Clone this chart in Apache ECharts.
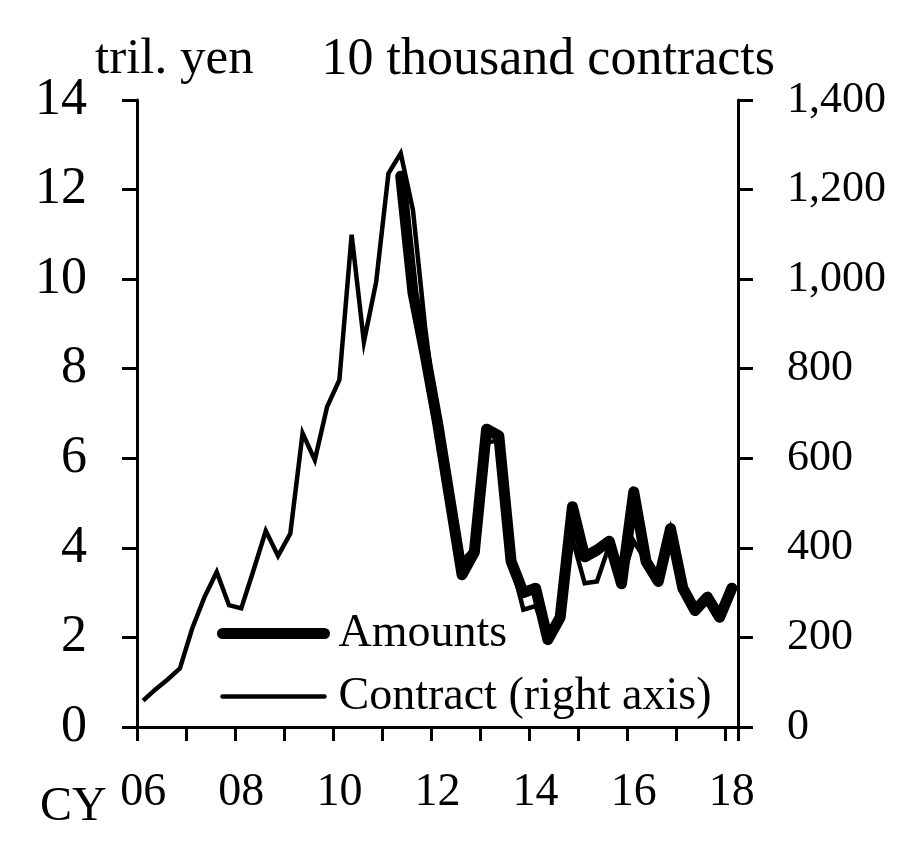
<!DOCTYPE html>
<html>
<head>
<meta charset="utf-8">
<script src="https://cdn.jsdelivr.net/npm/echarts@6/dist/echarts.min.js"></script>
<style>
  html, body { margin: 0; padding: 0; background: #fff; }
  #chart { width: 916px; height: 856px; }
</style>
</head>
<body>
<div id="chart"></div>
<script>
// quarterly, 2006Q1 - 2018Q1
const quarters = [];
for (let y = 6; y <= 18; y++) {
    for (let q = 1; q <= 4; q++) {
        if (y === 18 && q > 1) break;
        quarters.push((y < 10 ? '0' + y : '' + y) + 'Q' + q);
    }
}
// contracts, 10 thousand (right axis)
const contracts = [59, 84, 106, 131, 220, 290, 346, 272, 265, 350,
    438, 382, 432, 656, 596, 715, 775, 1099, 860, 994,
    1236, 1281, 1154, 890, 680, 500, 370, 400, 635, 640,
    370, 262, 270, 200, 250, 420, 321, 325, 405, 325,
    415, 370, 330, 440, 310, 265, 290, 250, 310];
// amounts, tril. yen (left axis) - starts 2011Q2
const amounts = [null, null, null, null, null, null, null, null, null, null,
    null, null, null, null, null, null, null, null, null, null,
    null, 12.3, 9.7, 8.3, 6.8, 5.1, 3.4, 3.9, 6.65, 6.5,
    3.7, 3.0, 3.1, 1.95, 2.45, 4.92, 3.8, 3.95, 4.15, 3.2,
    5.25, 3.7, 3.25, 4.43, 3.1, 2.6, 2.9, 2.45, 3.1];
const leftTicks = [0, 14, 2];
const rightTicks = [0, 1400, 200];

const serif = '"Liberation Serif", "Times New Roman", serif';
const myChart = echarts.init(document.getElementById('chart'));

let option = {
    animation: false,
    textStyle: { fontFamily: serif, color: '#000' },
    grid: { left: 137, right: 178, top: 100, bottom: 129, containLabel: false },
    legend: {
        orient: 'vertical',
        left: 212,
        top: 603,
        itemWidth: 102,
        itemHeight: 14,
        itemGap: 12,
        itemStyle: { opacity: 0 },
        textStyle: { fontFamily: serif, fontSize: 46, color: '#000', lineHeight: 51, padding: [0, 0, 0, 9] },
        data: [
            { name: 'Amounts', lineStyle: { width: 11, cap: 'round' } },
            { name: 'Contract (right axis)', lineStyle: { width: 4.5, cap: 'round' } }
        ]
    },
    xAxis: {
        type: 'category',
        data: quarters,
        boundaryGap: true,
        axisLine: { lineStyle: { color: '#000', width: 3 } },
        axisTick: { show: true, interval: 3, length: 14, lineStyle: { color: '#000', width: 3 } },
        axisLabel: {
            interval: function (idx) { return idx % 8 === 0; },
            formatter: function (v) { return v.slice(0, 2); },
            fontFamily: serif, fontSize: 46, color: '#000', margin: 43
        },
        splitLine: { show: false }
    },
    yAxis: [{
        type: 'value',
        min: leftTicks[0], max: leftTicks[1], interval: leftTicks[2],
        position: 'left',
        axisLine: { show: true, lineStyle: { color: '#000', width: 3 } },
        axisTick: { show: true, length: 15, lineStyle: { color: '#000', width: 3 } },
        axisLabel: { fontFamily: serif, fontSize: 52, color: '#000', margin: 50 },
        splitLine: { show: false }
    }, {
        type: 'value',
        min: rightTicks[0], max: rightTicks[1], interval: rightTicks[2],
        position: 'right',
        axisLine: { show: true, lineStyle: { color: '#000', width: 3 } },
        axisTick: { show: true, length: 15, lineStyle: { color: '#000', width: 3 } },
        axisLabel: {
            fontFamily: serif, fontSize: 44, color: '#000', margin: 49,
            formatter: function (v) { return v.toLocaleString('en-US'); }
        },
        splitLine: { show: false }
    }],
    graphic: [
        { type: 'text', left: 95, top: 34, style: { text: 'tril. yen', font: '51px ' + serif, fill: '#000' } },
        { type: 'text', right: 141, top: 34, style: { text: '10 thousand contracts', font: '52px ' + serif, fill: '#000' } },
        { type: 'text', left: 40, top: 783, style: { text: 'CY', font: '48px ' + serif, fill: '#000' } }
    ],
    series: [{
        name: 'Contract (right axis)',
        type: 'line',
        yAxisIndex: 1,
        data: contracts,
        symbol: 'none',
        z: 2,
        lineStyle: { color: '#000', width: 4.5, join: 'miter' },
        itemStyle: { color: '#000' }
    }, {
        name: 'Amounts',
        type: 'line',
        yAxisIndex: 0,
        data: amounts,
        symbol: 'none',
        z: 3,
        lineStyle: { color: '#000', width: 11, join: 'round', cap: 'round' },
        itemStyle: { color: '#000' }
    }]
};

myChart.setOption(option);
window.addEventListener("resize", function () {
    myChart.resize();
});
</script>
</body>
</html>
